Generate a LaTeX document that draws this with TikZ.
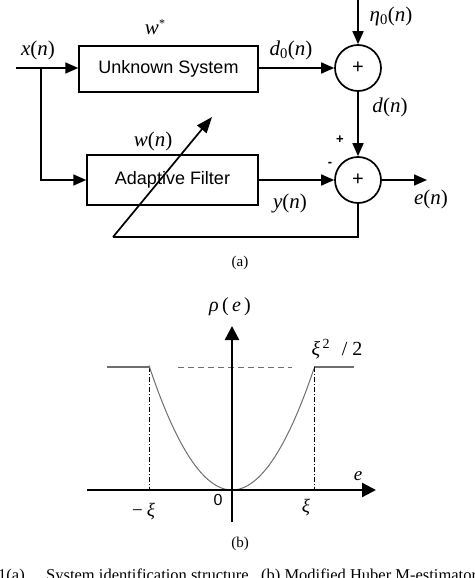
\documentclass[tikz,border=0pt]{standalone}
\usepackage{fontspec}
\setmainfont{Liberation Serif}
\newfontfamily\blockfont{Liberation Sans}
\usetikzlibrary{arrows.meta,positioning,calc}
\definecolor{curveGray}{RGB}{110,110,110}

\tikzset{
  sig/.style={-{Triangle[length=13pt,width=11pt]}, line width=1.7pt},
  wire/.style={line width=1.7pt},
  blockbox/.style={draw, line width=1.5pt, font=\blockfont\fontsize{18}{20}\selectfont},
  sumnode/.style={draw, circle, line width=1.7pt, minimum size=46pt, inner sep=0pt, font=\blockfont\fontsize{20}{22}\selectfont},
  lbl/.style={inner sep=0pt, font=\fontsize{21}{22}\selectfont},
  axisarrow/.style={-{Triangle[length=14pt,width=14pt]}, line width=2.4pt}
}

\begin{document}
\begin{tikzpicture}[x=1pt, y=-1pt]
\useasboundingbox (0,0) rectangle (474,578);
\clip (0,0) rectangle (474,578);

% (a) system identification
\node[blockbox, minimum width=179pt, minimum height=46pt] (unk) at (168.5,69) {Unknown System};
\node[blockbox, minimum width=171pt, minimum height=50pt] (adf) at (172.5,180) {Adaptive Filter};
\node[sumnode] (sum1) at (358,68) {+};
\node[sumnode] (sum2) at (358,180) {+};

\coordinate (in) at (16,68);
\coordinate (split) at (41,68);
\coordinate (noise) at (358,0);
\coordinate (out) at (427,180);
\coordinate (fbcorner) at (113,237);
\coordinate (tunetip) at (212,117);

\draw[wire] (in) -- (split);
\draw[sig] (split) -- (unk.west |- split);
\draw[sig] (split) |- (adf.west);
\draw[sig] (noise) -- (sum1);
\draw[sig] (unk.east |- sum1) -- (sum1);
\draw[sig] (sum1) -- (sum2);
\draw[sig] (adf) -- (sum2);
\draw[sig] (sum2) -- (out);
\draw[wire] (sum2.south) |- (fbcorner);
\draw[sig, -{Triangle[length=16pt,width=12pt]}] (fbcorner) -- (tunetip);

\node[lbl] (xlbl) at (38,50) {\textit{x}(\textit{n})};
\node[lbl] (wstar) at (155,27) {\textit{w}\raisebox{7pt}{\fontsize{12}{12}\selectfont *}};
\node[lbl] (d0lbl) at (291,50) {\textit{d}\textsubscript{0}(\textit{n})};
\node[lbl] (etalbl) at (391,16) {\textit{η}\textsubscript{0}(\textit{n})};
\node[lbl] (dlbl) at (390,107) {\textit{d}(\textit{n})};
\node[lbl, font=\blockfont\bfseries\fontsize{13}{13}\selectfont] (plus) at (340,140) {+};
\node[lbl, font=\blockfont\bfseries\fontsize{13}{13}\selectfont] (minus) at (330,164) {-};
\node[lbl] (ylbl) at (290,203) {\textit{y}(\textit{n})};
\node[lbl] (elbl) at (431,199) {\textit{e}(\textit{n})};
\node[lbl] (wlbl) at (153,141) {\textit{w}(\textit{n})};
\node[lbl, font=\fontsize{15}{16}\selectfont] (capa) at (240,263) {(a)};

% (b) modified Huber function
\coordinate (origin) at (232,490);
\coordinate (xstart) at (87,490);
\coordinate (xend) at (376,490);
\coordinate (ystart) at (232,522);
\coordinate (yend) at (232,326);

\draw[curveGray, line width=1.3pt] (107,367) -- (149,367);
\draw[curveGray, line width=1.3pt] (314,367) -- (354,367);
\draw[curveGray, line width=0.9pt, dash pattern=on 6pt off 4pt] (178,367) -- (292,367);
\draw[line width=0.8pt, dash pattern=on 5pt off 2pt on 1pt off 2pt] (149,367) -- (149,490);
\draw[line width=0.8pt, dash pattern=on 5pt off 2pt on 1pt off 2pt] (314,367) -- (314,490);
\draw[curveGray, line width=1pt] plot[domain=-83:82, samples=80] ({232+\x},{490-123*(\x/82.5)^2});

\draw[axisarrow] (xstart) -- (xend);
\draw[axisarrow] (ystart) -- (yend);

\node[lbl, font=\fontsize{20}{20}\selectfont] (rholbl) at (230,307) {\textit{ρ}\,(\,\textit{e}\,)};
\node[lbl, font=\fontsize{20}{20}\selectfont] (xisq) at (337,349) {\textit{ξ}\textsuperscript{\,2}\,\, / 2};
\node[lbl, font=\fontsize{19}{20}\selectfont] (elabel) at (358,476) {\textit{e}};
\node[lbl, font=\blockfont\fontsize{16}{16}\selectfont] (zero) at (218,500) {0};
\node[lbl, font=\fontsize{19}{20}\selectfont] (mxi) at (143,512) {\textit{−\,ξ}};
\node[lbl, font=\fontsize{19}{20}\selectfont] (pxi) at (306,508) {\textit{ξ}};
\node[lbl, font=\fontsize{15}{16}\selectfont] (capb) at (240,544) {(b)};

\node[anchor=base west, inner sep=0pt, font=\fontsize{16.5}{17}\selectfont] (caption) at (-2,580)
  {1(a)\hspace{1.3em}System identification structure.\ \ (b) Modified Huber M-estimator};
\end{tikzpicture}
\end{document}
